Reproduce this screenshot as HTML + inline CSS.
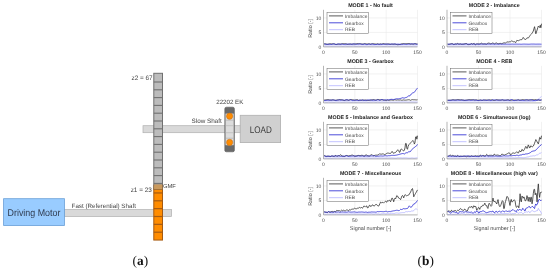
<!DOCTYPE html><html><head><meta charset="utf-8"><title>Figure</title>
<style>html,body{margin:0;padding:0;background:#fff;overflow:hidden;}svg{display:block;}text{font-family:"Liberation Sans",Arial,sans-serif;text-rendering:geometricPrecision;}.s{font-family:"Liberation Serif","Times New Roman",serif;}</style></head><body>
<svg width="550" height="271" viewBox="0 0 550 271">
<rect x="0" y="0" width="550" height="271" fill="#ffffff"/>
<rect x="64.4" y="209.6" width="107.2" height="6.9" fill="#d9d9d9" stroke="#b0b0b0" stroke-width="0.7"/>
<rect x="143" y="125.7" width="98" height="7" fill="#d9d9d9" stroke="#b0b0b0" stroke-width="0.7"/>
<rect x="3.6" y="198.7" width="60.8" height="26.9" fill="#99ccff" stroke="#6a9fd8" stroke-width="0.8"/>
<text x="7.6" y="216.4" font-size="9.8" textLength="52.8" lengthAdjust="spacingAndGlyphs" fill="#2e3a4e">Driving Motor</text>
<rect x="240.2" y="115.3" width="40.4" height="27.3" fill="#d0d0d0" stroke="#b0b0b0" stroke-width="0.8"/>
<text x="249.8" y="133" font-size="9.6" textLength="22" lengthAdjust="spacingAndGlyphs" fill="#3a3a3a">LOAD</text>
<rect x="153.8" y="73.3" width="8.7" height="115.70" fill="#bcbcbc" stroke="#707070" stroke-width="1.0"/>
<line x1="153.8" y1="82.00" x2="162.5" y2="82.00" stroke="#707070" stroke-width="1.1"/>
<line x1="153.8" y1="89.80" x2="162.5" y2="89.80" stroke="#707070" stroke-width="1.1"/>
<line x1="153.8" y1="97.60" x2="162.5" y2="97.60" stroke="#707070" stroke-width="1.1"/>
<line x1="153.8" y1="105.40" x2="162.5" y2="105.40" stroke="#707070" stroke-width="1.1"/>
<line x1="153.8" y1="113.20" x2="162.5" y2="113.20" stroke="#707070" stroke-width="1.1"/>
<line x1="153.8" y1="121.00" x2="162.5" y2="121.00" stroke="#707070" stroke-width="1.1"/>
<line x1="153.8" y1="128.80" x2="162.5" y2="128.80" stroke="#707070" stroke-width="1.1"/>
<line x1="153.8" y1="136.60" x2="162.5" y2="136.60" stroke="#707070" stroke-width="1.1"/>
<line x1="153.8" y1="144.40" x2="162.5" y2="144.40" stroke="#707070" stroke-width="1.1"/>
<line x1="153.8" y1="152.20" x2="162.5" y2="152.20" stroke="#707070" stroke-width="1.1"/>
<line x1="153.8" y1="160.00" x2="162.5" y2="160.00" stroke="#707070" stroke-width="1.1"/>
<line x1="153.8" y1="167.80" x2="162.5" y2="167.80" stroke="#707070" stroke-width="1.1"/>
<line x1="153.8" y1="175.60" x2="162.5" y2="175.60" stroke="#707070" stroke-width="1.1"/>
<line x1="153.8" y1="183.40" x2="162.5" y2="183.40" stroke="#707070" stroke-width="1.1"/>
<rect x="153.8" y="189" width="8.7" height="51.05" fill="#ff8c00" stroke="#a55a12" stroke-width="1.0"/>
<line x1="153.8" y1="192.95" x2="162.5" y2="192.95" stroke="#a55a12" stroke-width="1.2"/>
<line x1="153.8" y1="200.80" x2="162.5" y2="200.80" stroke="#a55a12" stroke-width="1.2"/>
<line x1="153.8" y1="208.65" x2="162.5" y2="208.65" stroke="#a55a12" stroke-width="1.2"/>
<line x1="153.8" y1="216.50" x2="162.5" y2="216.50" stroke="#a55a12" stroke-width="1.2"/>
<line x1="153.8" y1="224.35" x2="162.5" y2="224.35" stroke="#a55a12" stroke-width="1.2"/>
<line x1="153.8" y1="232.20" x2="162.5" y2="232.20" stroke="#a55a12" stroke-width="1.2"/>
<rect x="153.8" y="185" width="8.7" height="4.2" fill="#c9995d" stroke="#8a6a48" stroke-width="0.9"/>
<rect x="154.25" y="184.6" width="7.799999999999999" height="4.4" fill="#c9995d" stroke="none"/>
<rect x="224.8" y="107.2" width="9.6" height="44.6" rx="1.6" ry="1.6" fill="#6a6a6a" stroke="#5a5a5a" stroke-width="0.6"/>
<rect x="225.5" y="113.6" width="8.2" height="31.6" fill="#dcdcdc" stroke="none"/>
<line x1="225.70000000000002" y1="120.2" x2="233.5" y2="120.2" stroke="#9a9a9a" stroke-width="0.5"/>
<line x1="225.70000000000002" y1="138.2" x2="233.5" y2="138.2" stroke="#9a9a9a" stroke-width="0.5"/>
<line x1="225.70000000000002" y1="125.7" x2="233.5" y2="125.7" stroke="#b0b0b0" stroke-width="0.6"/>
<line x1="225.70000000000002" y1="132.7" x2="233.5" y2="132.7" stroke="#b0b0b0" stroke-width="0.6"/>
<circle cx="229.60000000000002" cy="116.2" r="3.1" fill="#ff8c00" stroke="#c9721a" stroke-width="0.6"/>
<circle cx="229.60000000000002" cy="142.4" r="3.1" fill="#ff8c00" stroke="#c9721a" stroke-width="0.6"/>
<text x="152.6" y="79.6" font-size="6.4" text-anchor="end" fill="#444">z2 = 67</text>
<text x="151.8" y="192.2" font-size="6.4" text-anchor="end" fill="#444">z1 = 23</text>
<text x="162.9" y="187.8" font-size="5.8" text-anchor="start" fill="#444">GMF</text>
<text x="216.2" y="103.8" font-size="6.2" text-anchor="start" fill="#444">22202 EK</text>
<text x="221.9" y="123.2" font-size="6.35" text-anchor="end" fill="#444">Slow Shaft</text>
<text x="71.6" y="207.9" font-size="6.22" text-anchor="start" fill="#444">Fast (Referential) Shaft</text>
<text class="s" x="140.3" y="264.9" font-size="13.3" text-anchor="middle" fill="#111">(<tspan font-weight="bold">a</tspan>)</text>
<text class="s" x="425.7" y="264.9" font-size="13.3" text-anchor="middle" fill="#111">(<tspan font-weight="bold">b</tspan>)</text>
<line x1="354.83" y1="9.8" x2="354.83" y2="46.9" stroke="#e4e4e4" stroke-width="0.5"/>
<line x1="386.17" y1="9.8" x2="386.17" y2="46.9" stroke="#e4e4e4" stroke-width="0.5"/>
<line x1="417.50" y1="9.8" x2="417.50" y2="46.9" stroke="#e4e4e4" stroke-width="0.5"/>
<line x1="323.5" y1="32.41" x2="417.5" y2="32.41" stroke="#e4e4e4" stroke-width="0.5"/>
<line x1="323.5" y1="17.92" x2="417.5" y2="17.92" stroke="#e4e4e4" stroke-width="0.5"/>
<polyline points="324.13,45.94 324.75,45.90 325.38,45.86 326.01,45.94 326.63,46.01 327.26,46.00 327.89,45.94 328.51,45.92 329.14,45.93 329.77,45.95 330.39,46.02 331.02,46.09 331.65,46.07 332.27,46.03 332.90,46.02 333.53,46.03 334.15,46.04 334.78,46.04 335.41,46.05 336.03,46.01 336.66,45.97 337.29,45.96 337.91,45.95 338.54,45.95 339.17,45.95 339.79,45.95 340.42,45.92 341.05,45.89 341.67,45.98 342.30,46.11 342.93,46.16 343.55,46.09 344.18,46.02 344.81,45.92 345.43,45.82 346.06,45.91 346.69,46.05 347.31,46.10 347.94,46.05 348.57,46.00 349.19,45.97 349.82,45.95 350.45,45.98 351.07,46.03 351.70,45.96 352.33,45.83 352.95,45.76 353.58,45.84 354.21,45.91 354.83,46.00 355.46,46.09 356.09,46.15 356.71,46.20 357.34,46.18 357.97,46.04 358.59,45.93 359.22,46.03 359.85,46.14 360.47,46.11 361.10,46.06 361.73,46.01 362.35,45.97 362.98,45.94 363.61,45.96 364.23,45.98 364.86,45.97 365.49,45.96 366.11,45.91 366.74,45.83 367.37,45.82 367.99,45.94 368.62,46.06 369.25,46.02 369.87,45.99 370.50,45.93 371.13,45.85 371.75,45.82 372.38,45.85 373.01,45.87 373.63,45.82 374.26,45.76 374.89,45.85 375.51,45.97 376.14,46.04 376.77,46.05 377.39,46.04 378.02,45.98 378.65,45.92 379.27,45.89 379.90,45.87 380.53,45.88 381.15,45.91 381.78,45.97 382.41,46.09 383.03,46.21 383.66,46.20 384.29,46.18 384.91,46.17 385.54,46.15 386.17,46.09 386.79,45.94 387.42,45.83 388.05,45.98 388.67,46.13 389.30,46.13 389.93,46.09 390.55,46.08 391.18,46.10 391.81,46.10 392.43,46.02 393.06,45.94 393.69,45.93 394.31,45.93 394.94,45.96 395.57,46.02 396.19,46.04 396.82,45.99 397.45,45.95 398.07,45.92 398.70,45.89 399.33,45.85 399.95,45.82 400.58,45.83 401.21,45.91 401.83,45.98 402.46,46.00 403.09,46.03 403.71,46.05 404.34,46.08 404.97,46.09 405.59,46.08 406.22,46.07 406.85,46.07 407.47,46.06 408.10,46.05 408.73,46.04 409.35,46.02 409.98,45.99 410.61,46.00 411.23,46.09 411.86,46.17 412.49,46.04 413.11,45.90 413.74,45.91 414.37,45.98 414.99,46.01 415.62,45.99 416.25,45.97 416.87,45.93 417.50,45.89" fill="none" stroke="#b3b3ff" stroke-width="0.8" stroke-linejoin="round"/>
<polyline points="324.13,43.99 324.75,43.94 325.38,43.88 326.01,43.94 326.63,44.13 327.26,44.26 327.89,44.21 328.51,44.15 329.14,43.99 329.77,43.81 330.39,43.79 331.02,43.86 331.65,43.90 332.27,43.87 332.90,43.84 333.53,43.88 334.15,43.92 334.78,44.07 335.41,44.27 336.03,44.38 336.66,44.34 337.29,44.31 337.91,44.23 338.54,44.16 339.17,44.11 339.79,44.07 340.42,44.05 341.05,44.04 341.67,43.99 342.30,43.79 342.93,43.58 343.55,43.66 344.18,43.76 344.81,43.78 345.43,43.75 346.06,43.81 346.69,44.07 347.31,44.33 347.94,44.27 348.57,44.20 349.19,44.13 349.82,44.04 350.45,44.01 351.07,44.05 351.70,44.08 352.33,44.09 352.95,44.09 353.58,44.06 354.21,44.02 354.83,43.99 355.46,43.96 356.09,43.91 356.71,43.73 357.34,43.56 357.97,43.66 358.59,43.80 359.22,43.82 359.85,43.78 360.47,43.78 361.10,43.88 361.73,43.98 362.35,44.04 362.98,44.10 363.61,43.97 364.23,43.76 364.86,43.68 365.49,43.78 366.11,43.88 366.74,43.96 367.37,44.03 367.99,43.94 368.62,43.81 369.25,43.83 369.87,43.99 370.50,44.10 371.13,44.03 371.75,43.96 372.38,43.83 373.01,43.69 373.63,43.71 374.26,43.83 374.89,43.95 375.51,44.06 376.14,44.18 376.77,43.98 377.39,43.79 378.02,43.92 378.65,44.19 379.27,44.26 379.90,44.04 380.53,43.87 381.15,44.04 381.78,44.22 382.41,43.95 383.03,43.59 383.66,43.56 384.29,43.83 384.91,44.05 385.54,44.11 386.17,44.17 386.79,44.10 387.42,44.02 388.05,43.97 388.67,43.92 389.30,43.96 389.93,44.19 390.55,44.42 391.18,44.24 391.81,44.05 392.43,44.10 393.06,44.23 393.69,44.26 394.31,44.16 394.94,44.08 395.57,44.22 396.19,44.35 396.82,44.52 397.45,44.70 398.07,44.71 398.70,44.56 399.33,44.44 399.95,44.43 400.58,44.41 401.21,44.12 401.83,43.80 402.46,43.68 403.09,43.68 403.71,43.70 404.34,43.78 404.97,43.86 405.59,43.77 406.22,43.68 406.85,43.65 407.47,43.63 408.10,43.59 408.73,43.52 409.35,43.50 409.98,43.85 410.61,44.20 411.23,44.11 411.86,43.92 412.49,43.94 413.11,44.15 413.74,44.25 414.37,43.90 414.99,43.55 415.62,43.69 416.25,43.87 416.87,43.95 417.50,43.96" fill="none" stroke="#303030" stroke-width="0.8" stroke-linejoin="round"/>
<polyline points="324.13,43.91 324.75,43.92 325.38,44.18 326.01,44.41 326.63,44.38 327.26,44.36 327.89,44.29 328.51,44.21 329.14,44.21 329.77,44.29 330.39,44.37 331.02,44.42 331.65,44.48 332.27,44.25 332.90,44.00 333.53,43.93 334.15,43.98 334.78,44.10 335.41,44.37 336.03,44.63 336.66,44.36 337.29,44.08 337.91,43.99 338.54,43.97 339.17,44.05 339.79,44.24 340.42,44.39 341.05,44.19 341.67,43.98 342.30,44.14 342.93,44.39 343.55,44.46 344.18,44.37 344.81,44.30 345.43,44.27 346.06,44.24 346.69,44.18 347.31,44.13 347.94,44.11 348.57,44.12 349.19,44.13 349.82,44.14 350.45,44.16 351.07,44.26 351.70,44.35 352.33,44.23 352.95,44.01 353.58,43.92 354.21,44.00 354.83,44.08 355.46,44.19 356.09,44.29 356.71,44.32 357.34,44.32 357.97,44.23 358.59,44.05 359.22,43.93 359.85,44.00 360.47,44.07 361.10,44.20 361.73,44.34 362.35,44.36 362.98,44.31 363.61,44.24 364.23,44.12 364.86,44.00 365.49,44.27 366.11,44.53 366.74,44.53 367.37,44.44 367.99,44.32 368.62,44.18 369.25,44.08 369.87,44.25 370.50,44.42 371.13,44.25 371.75,44.00 372.38,44.00 373.01,44.24 373.63,44.44 374.26,44.46 374.89,44.48 375.51,44.48 376.14,44.48 376.77,44.40 377.39,44.28 378.02,44.21 378.65,44.25 379.27,44.29 379.90,44.32 380.53,44.35 381.15,44.30 381.78,44.23 382.41,44.22 383.03,44.30 383.66,44.36 384.29,44.26 384.91,44.17 385.54,44.12 386.17,44.09 386.79,44.09 387.42,44.11 388.05,44.16 388.67,44.29 389.30,44.41 389.93,44.26 390.55,44.09 391.18,44.06 391.81,44.13 392.43,44.15 393.06,44.09 393.69,44.04 394.31,44.02 394.94,44.01 395.57,44.09 396.19,44.21 396.82,44.24 397.45,44.14 398.07,44.06 398.70,44.19 399.33,44.32 399.95,44.25 400.58,44.14 401.21,44.19 401.83,44.38 402.46,44.49 403.09,44.29 403.71,44.08 404.34,44.12 404.97,44.18 405.59,44.29 406.22,44.44 406.85,44.49 407.47,44.31 408.10,44.14 408.73,44.21 409.35,44.29 409.98,44.14 410.61,43.91 411.23,43.85 411.86,44.02 412.49,44.14 413.11,43.96 413.74,43.77 414.37,43.85 414.99,43.99 415.62,44.13 416.25,44.27 416.87,44.36 417.50,44.25" fill="none" stroke="#1f1fd0" stroke-width="0.8" stroke-linejoin="round"/>
<path d="M323.5 9.8 V46.9 H417.5" fill="none" stroke="#6a6a6a" stroke-width="0.5"/>
<text x="323.50" y="54.10" font-size="5" text-anchor="middle" fill="#4a4a4a">0</text>
<text x="354.83" y="54.10" font-size="5" text-anchor="middle" fill="#4a4a4a">50</text>
<text x="386.17" y="54.10" font-size="5" text-anchor="middle" fill="#4a4a4a">100</text>
<text x="417.50" y="54.10" font-size="5" text-anchor="middle" fill="#4a4a4a">150</text>
<text x="321.30" y="48.70" font-size="5" text-anchor="end" fill="#4a4a4a">0</text>
<text x="321.30" y="34.21" font-size="5" text-anchor="end" fill="#4a4a4a">5</text>
<text x="321.30" y="19.72" font-size="5" text-anchor="end" fill="#4a4a4a">10</text>
<text x="312.30" y="28.35" font-size="5.4" text-anchor="middle" fill="#4a4a4a" transform="rotate(-90 312.30 28.35)">Ratio [-]</text>
<text x="370.50" y="6.60" font-size="5.3" font-weight="bold" text-anchor="middle" fill="#222">MODE 1 - No fault</text>
<rect x="327.00" y="12.30" width="41.5" height="21.2" fill="#fff" stroke="#666" stroke-width="0.5"/>
<line x1="329.00" y1="15.90" x2="343.00" y2="15.90" stroke="#303030" stroke-width="0.8"/>
<text x="345.00" y="17.65" font-size="4.85" fill="#4a4a4a">Imbalance</text>
<line x1="329.00" y1="22.80" x2="343.00" y2="22.80" stroke="#1f1fd0" stroke-width="0.8"/>
<text x="345.00" y="24.55" font-size="4.85" fill="#4a4a4a">Gearbox</text>
<line x1="329.00" y1="29.70" x2="343.00" y2="29.70" stroke="#b3b3ff" stroke-width="0.8"/>
<text x="345.00" y="31.45" font-size="4.85" fill="#4a4a4a">REB</text>
<line x1="478.50" y1="9.8" x2="478.50" y2="46.9" stroke="#e4e4e4" stroke-width="0.5"/>
<line x1="510.00" y1="9.8" x2="510.00" y2="46.9" stroke="#e4e4e4" stroke-width="0.5"/>
<line x1="541.50" y1="9.8" x2="541.50" y2="46.9" stroke="#e4e4e4" stroke-width="0.5"/>
<line x1="447.0" y1="32.41" x2="541.5" y2="32.41" stroke="#e4e4e4" stroke-width="0.5"/>
<line x1="447.0" y1="17.92" x2="541.5" y2="17.92" stroke="#e4e4e4" stroke-width="0.5"/>
<polyline points="447.63,46.00 448.26,45.96 448.89,46.00 449.52,46.04 450.15,46.03 450.78,45.99 451.41,45.98 452.04,46.02 452.67,46.05 453.30,46.04 453.93,46.03 454.56,46.01 455.19,45.99 455.82,45.98 456.45,45.99 457.08,46.00 457.71,46.04 458.34,46.08 458.97,46.07 459.60,46.06 460.23,46.06 460.86,46.07 461.49,46.06 462.12,46.01 462.75,45.96 463.38,45.99 464.01,46.02 464.64,46.03 465.27,46.02 465.90,46.02 466.53,46.06 467.16,46.08 467.79,46.03 468.42,45.99 469.05,46.01 469.68,46.05 470.31,46.05 470.94,46.01 471.57,45.99 472.20,46.02 472.83,46.05 473.46,46.03 474.09,46.00 474.72,45.99 475.35,45.98 475.98,45.98 476.61,46.01 477.24,46.05 477.87,46.05 478.50,46.05 479.13,46.05 479.76,46.06 480.39,46.05 481.02,46.01 481.65,45.98 482.28,45.99 482.91,46.00 483.54,46.02 484.17,46.05 484.80,46.07 485.43,46.09 486.06,46.10 486.69,46.10 487.32,46.10 487.95,46.08 488.58,46.06 489.21,46.06 489.84,46.08 490.47,46.09 491.10,46.07 491.73,46.06 492.36,46.03 492.99,46.00 493.62,45.98 494.25,45.95 494.88,45.96 495.51,46.01 496.14,46.06 496.77,46.09 497.40,46.12 498.03,46.09 498.66,46.06 499.29,46.05 499.92,46.09 500.55,46.11 501.18,46.09 501.81,46.07 502.44,46.06 503.07,46.04 503.70,46.04 504.33,46.03 504.96,46.03 505.59,46.02 506.22,46.02 506.85,46.00 507.48,45.99 508.11,45.99 508.74,46.01 509.37,46.03 510.00,46.06 510.63,46.09 511.26,46.06 511.89,46.03 512.52,46.03 513.15,46.03 513.78,46.04 514.41,46.06 515.04,46.07 515.67,46.02 516.30,45.98 516.93,46.00 517.56,46.04 518.19,46.05 518.82,46.06 519.45,46.07 520.08,46.06 520.71,46.06 521.34,46.05 521.97,46.05 522.60,46.04 523.23,46.03 523.86,46.04 524.49,46.06 525.12,46.07 525.75,46.05 526.38,46.02 527.01,46.02 527.64,46.02 528.27,46.02 528.90,46.04 529.53,46.04 530.16,46.03 530.79,46.03 531.42,46.02 532.05,46.01 532.68,46.01 533.31,46.01 533.94,46.02 534.57,46.05 535.20,46.07 535.83,46.05 536.46,46.04 537.09,46.02 537.72,46.01 538.35,46.00 538.98,45.99 539.61,45.99 540.24,46.02 540.87,46.05 541.50,46.07" fill="none" stroke="#b3b3ff" stroke-width="0.8" stroke-linejoin="round"/>
<polyline points="447.63,44.10 448.26,44.28 448.89,44.44 449.52,44.27 450.15,44.10 450.78,43.90 451.41,43.71 452.04,43.72 452.67,43.77 453.30,44.32 453.93,44.78 454.56,44.34 455.19,43.95 455.82,44.03 456.45,44.06 457.08,43.70 457.71,43.41 458.34,43.94 458.97,44.39 459.60,44.07 460.23,43.80 460.86,44.09 461.49,44.36 462.12,44.32 462.75,44.28 463.38,44.18 464.01,44.06 464.64,43.83 465.27,43.62 465.90,43.54 466.53,43.53 467.16,44.08 467.79,44.59 468.42,44.60 469.05,44.61 469.68,44.49 470.31,44.34 470.94,43.91 471.57,43.55 472.20,43.95 472.83,44.26 473.46,43.71 474.09,43.28 474.72,44.20 475.35,44.99 475.98,44.44 476.61,43.93 477.24,43.91 477.87,43.89 478.50,43.95 479.13,43.99 479.76,43.89 480.39,43.76 481.02,43.42 481.65,43.16 482.28,43.66 482.91,44.12 483.54,43.99 484.17,43.87 484.80,43.91 485.43,43.97 486.06,44.14 486.69,44.23 487.32,43.60 487.95,43.02 488.58,43.07 489.21,43.15 489.84,43.46 490.47,43.74 491.10,43.62 491.73,43.49 492.36,43.12 492.99,42.83 493.62,43.42 494.25,43.95 494.88,43.61 495.51,43.28 496.14,43.10 496.77,42.98 497.40,43.49 498.03,43.94 498.66,43.72 499.29,43.50 499.92,43.45 500.55,43.42 501.18,43.63 501.81,43.80 502.44,43.42 503.07,43.06 503.70,42.93 504.33,42.82 504.96,43.03 505.59,43.17 506.22,42.46 506.85,41.80 507.48,41.96 508.11,42.09 508.74,41.95 509.37,41.81 510.00,41.78 510.63,41.70 511.26,41.18 511.89,40.74 512.52,41.30 513.15,41.82 513.78,41.70 514.41,41.64 515.04,42.21 515.67,42.65 516.30,41.41 516.93,40.25 517.56,40.54 518.19,40.79 518.82,40.48 519.45,40.17 520.08,39.90 520.71,39.65 521.34,39.66 521.97,39.58 522.60,38.44 523.23,37.42 523.86,38.31 524.49,39.19 525.12,39.39 525.75,39.51 526.38,38.62 527.01,37.77 527.64,37.96 528.27,38.08 528.90,37.22 529.53,36.32 530.16,35.40 530.79,34.47 531.42,33.91 532.05,33.28 532.68,32.24 533.31,31.03 533.94,28.68 534.57,26.69 535.20,30.35 535.83,33.82 536.46,31.98 537.09,30.01 537.72,27.95 538.35,26.02 538.98,26.86 539.61,27.52 540.24,25.23 540.87,27.77 541.50,23.71" fill="none" stroke="#303030" stroke-width="0.8" stroke-linejoin="round"/>
<polyline points="447.63,44.15 448.26,44.17 448.89,44.18 449.52,44.15 450.15,44.13 450.78,44.10 451.41,44.06 452.04,44.11 452.67,44.18 453.30,44.20 453.93,44.16 454.56,44.13 455.19,44.14 455.82,44.14 456.45,44.14 457.08,44.13 457.71,44.11 458.34,44.08 458.97,44.08 459.60,44.12 460.23,44.17 460.86,44.11 461.49,44.06 462.12,44.07 462.75,44.10 463.38,44.13 464.01,44.14 464.64,44.14 465.27,44.12 465.90,44.10 466.53,44.11 467.16,44.13 467.79,44.14 468.42,44.12 469.05,44.10 469.68,44.09 470.31,44.07 470.94,44.12 471.57,44.17 472.20,44.17 472.83,44.12 473.46,44.10 474.09,44.13 474.72,44.16 475.35,44.18 475.98,44.19 476.61,44.17 477.24,44.13 477.87,44.14 478.50,44.23 479.13,44.30 479.76,44.23 480.39,44.17 481.02,44.14 481.65,44.13 482.28,44.12 482.91,44.10 483.54,44.09 484.17,44.10 484.80,44.11 485.43,44.11 486.06,44.11 486.69,44.13 487.32,44.15 487.95,44.16 488.58,44.15 489.21,44.14 489.84,44.16 490.47,44.19 491.10,44.17 491.73,44.12 492.36,44.10 492.99,44.12 493.62,44.14 494.25,44.15 494.88,44.17 495.51,44.16 496.14,44.16 496.77,44.16 497.40,44.18 498.03,44.20 498.66,44.22 499.29,44.23 499.92,44.19 500.55,44.13 501.18,44.13 501.81,44.17 502.44,44.19 503.07,44.19 503.70,44.18 504.33,44.18 504.96,44.18 505.59,44.17 506.22,44.16 506.85,44.16 507.48,44.17 508.11,44.19 508.74,44.19 509.37,44.20 510.00,44.20 510.63,44.20 511.26,44.18 511.89,44.14 512.52,44.12 513.15,44.16 513.78,44.19 514.41,44.18 515.04,44.17 515.67,44.15 516.30,44.12 516.93,44.12 517.56,44.16 518.19,44.20 518.82,44.18 519.45,44.16 520.08,44.19 520.71,44.25 521.34,44.26 521.97,44.21 522.60,44.17 523.23,44.13 523.86,44.10 524.49,44.11 525.12,44.14 525.75,44.16 526.38,44.17 527.01,44.19 527.64,44.21 528.27,44.24 528.90,44.22 529.53,44.21 530.16,44.17 530.79,44.12 531.42,44.09 532.05,44.09 532.68,44.10 533.31,44.09 533.94,44.09 534.57,44.11 535.20,44.15 535.83,44.17 536.46,44.16 537.09,44.15 537.72,44.14 538.35,44.13 538.98,44.13 539.61,44.14 540.24,44.16 540.87,44.18 541.50,44.19" fill="none" stroke="#1f1fd0" stroke-width="0.8" stroke-linejoin="round"/>
<path d="M447.0 9.8 V46.9 H541.5" fill="none" stroke="#6a6a6a" stroke-width="0.5"/>
<text x="447.00" y="54.10" font-size="5" text-anchor="middle" fill="#4a4a4a">0</text>
<text x="478.50" y="54.10" font-size="5" text-anchor="middle" fill="#4a4a4a">50</text>
<text x="510.00" y="54.10" font-size="5" text-anchor="middle" fill="#4a4a4a">100</text>
<text x="541.50" y="54.10" font-size="5" text-anchor="middle" fill="#4a4a4a">150</text>
<text x="444.80" y="48.70" font-size="5" text-anchor="end" fill="#4a4a4a">0</text>
<text x="444.80" y="34.21" font-size="5" text-anchor="end" fill="#4a4a4a">5</text>
<text x="444.80" y="19.72" font-size="5" text-anchor="end" fill="#4a4a4a">10</text>
<text x="494.25" y="6.60" font-size="5.3" font-weight="bold" text-anchor="middle" fill="#222">MODE 2 - Imbalance</text>
<rect x="450.50" y="12.30" width="41.5" height="21.2" fill="#fff" stroke="#666" stroke-width="0.5"/>
<line x1="452.50" y1="15.90" x2="466.50" y2="15.90" stroke="#303030" stroke-width="0.8"/>
<text x="468.50" y="17.65" font-size="4.85" fill="#4a4a4a">Imbalance</text>
<line x1="452.50" y1="22.80" x2="466.50" y2="22.80" stroke="#1f1fd0" stroke-width="0.8"/>
<text x="468.50" y="24.55" font-size="4.85" fill="#4a4a4a">Gearbox</text>
<line x1="452.50" y1="29.70" x2="466.50" y2="29.70" stroke="#b3b3ff" stroke-width="0.8"/>
<text x="468.50" y="31.45" font-size="4.85" fill="#4a4a4a">REB</text>
<line x1="354.83" y1="65.8" x2="354.83" y2="102.9" stroke="#e4e4e4" stroke-width="0.5"/>
<line x1="386.17" y1="65.8" x2="386.17" y2="102.9" stroke="#e4e4e4" stroke-width="0.5"/>
<line x1="417.50" y1="65.8" x2="417.50" y2="102.9" stroke="#e4e4e4" stroke-width="0.5"/>
<line x1="323.5" y1="88.41" x2="417.5" y2="88.41" stroke="#e4e4e4" stroke-width="0.5"/>
<line x1="323.5" y1="73.92" x2="417.5" y2="73.92" stroke="#e4e4e4" stroke-width="0.5"/>
<polyline points="324.13,101.73 324.75,101.79 325.38,101.94 326.01,102.05 326.63,102.08 327.26,102.09 327.89,101.92 328.51,101.75 329.14,101.84 329.77,101.98 330.39,102.03 331.02,101.99 331.65,101.96 332.27,102.01 332.90,102.06 333.53,102.12 334.15,102.17 334.78,102.10 335.41,101.93 336.03,101.82 336.66,101.82 337.29,101.83 337.91,101.85 338.54,101.86 339.17,101.87 339.79,101.86 340.42,101.90 341.05,102.02 341.67,102.12 342.30,102.06 342.93,102.01 343.55,102.03 344.18,102.07 344.81,102.03 345.43,101.92 346.06,101.84 346.69,101.86 347.31,101.88 347.94,101.94 348.57,101.99 349.19,102.01 349.82,102.01 350.45,102.02 351.07,102.07 351.70,102.13 352.33,102.03 352.95,101.92 353.58,101.91 354.21,101.93 354.83,101.97 355.46,102.04 356.09,102.11 356.71,102.06 357.34,102.01 357.97,101.95 358.59,101.89 359.22,101.91 359.85,102.01 360.47,102.09 361.10,102.11 361.73,102.13 362.35,102.04 362.98,101.94 363.61,101.95 364.23,102.02 364.86,102.05 365.49,101.96 366.11,101.88 366.74,102.00 367.37,102.13 367.99,102.19 368.62,102.21 369.25,102.17 369.87,102.04 370.50,101.92 371.13,101.95 371.75,101.98 372.38,101.88 373.01,101.76 373.63,101.75 374.26,101.85 374.89,101.95 375.51,102.06 376.14,102.17 376.77,102.01 377.39,101.82 378.02,101.82 378.65,101.92 379.27,102.01 379.90,102.04 380.53,102.07 381.15,101.95 381.78,101.83 382.41,101.85 383.03,101.94 383.66,101.99 384.29,101.98 384.91,101.98 385.54,101.96 386.17,101.95 386.79,102.04 387.42,102.15 388.05,102.16 388.67,102.06 389.30,101.97 389.93,101.98 390.55,101.99 391.18,102.07 391.81,102.16 392.43,102.15 393.06,102.07 393.69,102.03 394.31,102.09 394.94,102.15 395.57,102.12 396.19,102.09 396.82,102.06 397.45,102.02 398.07,101.99 398.70,101.96 399.33,101.94 399.95,101.95 400.58,101.96 401.21,101.93 401.83,101.89 402.46,101.87 403.09,101.87 403.71,101.88 404.34,101.94 404.97,102.00 405.59,101.97 406.22,101.93 406.85,101.98 407.47,102.08 408.10,102.14 408.73,102.09 409.35,102.04 409.98,102.02 410.61,102.00 411.23,101.96 411.86,101.92 412.49,101.91 413.11,101.95 413.74,101.99 414.37,102.01 414.99,102.02 415.62,102.03 416.25,102.04 416.87,102.03 417.50,102.01" fill="none" stroke="#b3b3ff" stroke-width="0.8" stroke-linejoin="round"/>
<polyline points="324.13,100.11 324.75,100.02 325.38,99.93 326.01,99.83 326.63,99.72 327.26,99.65 327.89,99.64 328.51,99.64 329.14,99.83 329.77,100.01 330.39,100.09 331.02,100.14 331.65,100.07 332.27,99.88 332.90,99.77 333.53,99.94 334.15,100.11 334.78,100.22 335.41,100.33 336.03,100.27 336.66,100.09 337.29,99.95 337.91,99.92 338.54,99.90 339.17,99.74 339.79,99.58 340.42,99.59 341.05,99.66 341.67,99.77 342.30,99.93 342.93,100.09 343.55,100.34 344.18,100.60 344.81,100.39 345.43,100.06 346.06,99.89 346.69,99.87 347.31,99.91 347.94,100.14 348.57,100.38 349.19,100.08 349.82,99.72 350.45,99.57 351.07,99.56 351.70,99.59 352.33,99.71 352.95,99.83 353.58,100.01 354.21,100.19 354.83,100.15 355.46,100.02 356.09,99.88 356.71,99.70 357.34,99.59 357.97,100.00 358.59,100.41 359.22,100.35 359.85,100.17 360.47,100.12 361.10,100.20 361.73,100.24 362.35,100.11 362.98,99.98 363.61,100.05 364.23,100.15 364.86,100.18 365.49,100.15 366.11,100.16 366.74,100.23 367.37,100.30 367.99,100.36 368.62,100.43 369.25,100.35 369.87,100.22 370.50,100.10 371.13,100.00 371.75,99.90 372.38,99.75 373.01,99.59 373.63,99.69 374.26,99.84 374.89,99.97 375.51,100.08 376.14,100.10 376.77,99.80 377.39,99.50 378.02,99.51 378.65,99.56 379.27,99.68 379.90,99.84 380.53,99.92 381.15,99.80 381.78,99.67 382.41,99.79 383.03,99.91 383.66,99.99 384.29,100.06 384.91,100.20 385.54,100.41 386.17,100.57 386.79,100.25 387.42,99.93 388.05,100.07 388.67,100.32 389.30,100.35 389.93,100.18 390.55,100.05 391.18,100.04 391.81,100.03 392.43,100.17 393.06,100.32 393.69,100.20 394.31,99.90 394.94,99.75 395.57,99.94 396.19,100.14 396.82,100.04 397.45,99.95 398.07,99.97 398.70,100.05 399.33,100.07 399.95,99.99 400.58,99.95 401.21,100.14 401.83,100.34 402.46,100.21 403.09,100.00 403.71,99.96 404.34,100.10 404.97,100.20 405.59,100.15 406.22,100.09 406.85,99.99 407.47,99.88 408.10,99.81 408.73,99.75 409.35,99.80 409.98,100.07 410.61,100.34 411.23,100.01 411.86,99.67 412.49,99.64 413.11,99.72 413.74,99.77 414.37,99.77 414.99,99.78 415.62,99.86 416.25,99.95 416.87,99.87 417.50,99.76" fill="none" stroke="#303030" stroke-width="0.8" stroke-linejoin="round"/>
<polyline points="324.13,100.25 324.75,100.47 325.38,100.48 326.01,100.47 326.63,100.41 327.26,100.33 327.89,100.27 328.51,100.29 329.14,100.30 329.77,100.23 330.39,100.15 331.02,100.14 331.65,100.15 332.27,100.14 332.90,100.09 333.53,100.06 334.15,100.15 334.78,100.24 335.41,100.32 336.03,100.39 336.66,100.37 337.29,100.25 337.91,100.13 338.54,100.03 339.17,99.93 339.79,100.08 340.42,100.28 341.05,100.26 341.67,100.11 342.30,100.02 342.93,100.08 343.55,100.14 344.18,100.19 344.81,100.23 345.43,100.12 346.06,99.95 346.69,99.87 347.31,99.96 347.94,100.04 348.57,100.12 349.19,100.20 349.82,100.08 350.45,99.91 351.07,99.98 351.70,100.32 352.33,100.56 352.95,100.44 353.58,100.31 354.21,100.24 354.83,100.19 355.46,100.20 356.09,100.25 356.71,100.32 357.34,100.41 357.97,100.50 358.59,100.35 359.22,100.20 359.85,100.21 360.47,100.30 361.10,100.29 361.73,100.11 362.35,99.97 362.98,100.19 363.61,100.41 364.23,100.37 364.86,100.27 365.49,100.24 366.11,100.29 366.74,100.30 367.37,100.13 367.99,99.96 368.62,100.00 369.25,100.07 369.87,100.08 370.50,100.03 371.13,100.05 371.75,100.21 372.38,100.36 373.01,100.24 373.63,100.11 374.26,100.14 374.89,100.25 375.51,100.30 376.14,100.23 376.77,100.16 377.39,99.99 378.02,99.82 378.65,100.05 379.27,100.38 379.90,100.38 380.53,100.03 381.15,99.73 381.78,99.71 382.41,99.69 383.03,99.92 383.66,100.18 384.29,100.17 384.91,99.96 385.54,99.82 386.17,99.86 386.79,99.90 387.42,99.96 388.05,100.01 388.67,99.90 389.30,99.70 389.93,99.54 390.55,99.43 391.18,99.34 391.81,99.37 392.43,99.41 393.06,99.44 393.69,99.47 394.31,99.39 394.94,99.19 395.57,98.99 396.19,98.88 396.82,98.76 397.45,98.81 398.07,98.89 398.70,98.84 399.33,98.71 399.95,98.57 400.58,98.41 401.21,98.24 401.83,98.01 402.46,97.76 403.09,97.81 403.71,98.02 404.34,98.07 404.97,97.85 405.59,97.62 406.22,97.45 406.85,97.26 407.47,96.78 408.10,96.18 408.73,95.87 409.35,95.90 409.98,95.78 410.61,94.93 411.23,94.00 411.86,93.50 412.49,93.02 413.11,92.73 413.74,92.60 414.37,92.27 414.99,91.42 415.62,90.49 416.25,89.59 416.87,88.61 417.50,88.41" fill="none" stroke="#1f1fd0" stroke-width="0.8" stroke-linejoin="round"/>
<path d="M323.5 65.8 V102.9 H417.5" fill="none" stroke="#6a6a6a" stroke-width="0.5"/>
<text x="323.50" y="110.10" font-size="5" text-anchor="middle" fill="#4a4a4a">0</text>
<text x="354.83" y="110.10" font-size="5" text-anchor="middle" fill="#4a4a4a">50</text>
<text x="386.17" y="110.10" font-size="5" text-anchor="middle" fill="#4a4a4a">100</text>
<text x="417.50" y="110.10" font-size="5" text-anchor="middle" fill="#4a4a4a">150</text>
<text x="321.30" y="104.70" font-size="5" text-anchor="end" fill="#4a4a4a">0</text>
<text x="321.30" y="90.21" font-size="5" text-anchor="end" fill="#4a4a4a">5</text>
<text x="321.30" y="75.72" font-size="5" text-anchor="end" fill="#4a4a4a">10</text>
<text x="312.30" y="84.35" font-size="5.4" text-anchor="middle" fill="#4a4a4a" transform="rotate(-90 312.30 84.35)">Ratio [-]</text>
<text x="370.50" y="62.60" font-size="5.3" font-weight="bold" text-anchor="middle" fill="#222">MODE 3 - Gearbox</text>
<rect x="327.00" y="68.30" width="41.5" height="21.2" fill="#fff" stroke="#666" stroke-width="0.5"/>
<line x1="329.00" y1="71.90" x2="343.00" y2="71.90" stroke="#303030" stroke-width="0.8"/>
<text x="345.00" y="73.65" font-size="4.85" fill="#4a4a4a">Imbalance</text>
<line x1="329.00" y1="78.80" x2="343.00" y2="78.80" stroke="#1f1fd0" stroke-width="0.8"/>
<text x="345.00" y="80.55" font-size="4.85" fill="#4a4a4a">Gearbox</text>
<line x1="329.00" y1="85.70" x2="343.00" y2="85.70" stroke="#b3b3ff" stroke-width="0.8"/>
<text x="345.00" y="87.45" font-size="4.85" fill="#4a4a4a">REB</text>
<line x1="478.50" y1="65.8" x2="478.50" y2="102.9" stroke="#e4e4e4" stroke-width="0.5"/>
<line x1="510.00" y1="65.8" x2="510.00" y2="102.9" stroke="#e4e4e4" stroke-width="0.5"/>
<line x1="541.50" y1="65.8" x2="541.50" y2="102.9" stroke="#e4e4e4" stroke-width="0.5"/>
<line x1="447.0" y1="88.41" x2="541.5" y2="88.41" stroke="#e4e4e4" stroke-width="0.5"/>
<line x1="447.0" y1="73.92" x2="541.5" y2="73.92" stroke="#e4e4e4" stroke-width="0.5"/>
<polyline points="447.63,102.04 448.26,102.06 448.89,102.08 449.52,102.00 450.15,101.92 450.78,101.93 451.41,101.97 452.04,101.99 452.67,101.97 453.30,101.96 453.93,101.93 454.56,101.90 455.19,101.90 455.82,101.89 456.45,101.91 457.08,101.94 457.71,101.97 458.34,101.97 458.97,101.98 459.60,102.02 460.23,102.06 460.86,102.10 461.49,102.12 462.12,102.11 462.75,102.01 463.38,101.92 464.01,101.91 464.64,101.91 465.27,101.91 465.90,101.92 466.53,101.94 467.16,101.98 467.79,102.01 468.42,102.00 469.05,101.99 469.68,101.99 470.31,102.00 470.94,102.03 471.57,102.09 472.20,102.12 472.83,102.05 473.46,101.98 474.09,101.88 474.72,101.79 475.35,101.85 475.98,101.99 476.61,102.08 477.24,102.06 477.87,102.04 478.50,102.01 479.13,101.99 479.76,101.98 480.39,101.98 481.02,102.01 481.65,102.07 482.28,102.11 482.91,102.06 483.54,102.02 484.17,102.00 484.80,102.00 485.43,102.03 486.06,102.09 486.69,102.14 487.32,102.14 487.95,102.14 488.58,102.04 489.21,101.93 489.84,101.93 490.47,101.97 491.10,101.99 491.73,101.99 492.36,101.99 492.99,101.98 493.62,101.97 494.25,101.99 494.88,102.03 495.51,102.06 496.14,102.08 496.77,102.10 497.40,102.08 498.03,102.06 498.66,101.99 499.29,101.92 499.92,101.90 500.55,101.94 501.18,101.98 501.81,102.03 502.44,102.08 503.07,101.95 503.70,101.82 504.33,101.85 504.96,101.97 505.59,102.05 506.22,102.04 506.85,102.04 507.48,101.98 508.11,101.92 508.74,101.91 509.37,101.92 510.00,101.88 510.63,101.79 511.26,101.73 511.89,101.82 512.52,101.91 513.15,101.91 513.78,101.90 514.41,101.94 515.04,102.02 515.67,102.07 516.30,102.01 516.93,101.95 517.56,101.96 518.19,101.97 518.82,101.99 519.45,102.01 520.08,102.01 520.71,101.97 521.34,101.93 521.97,101.91 522.60,101.89 523.23,101.82 523.86,101.74 524.49,101.69 525.12,101.69 525.75,101.70 526.38,101.72 527.01,101.73 527.64,101.75 528.27,101.75 528.90,101.71 529.53,101.63 530.16,101.53 530.79,101.41 531.42,101.27 532.05,101.34 532.68,101.42 533.31,101.34 533.94,101.15 534.57,101.01 535.20,101.02 535.83,101.00 536.46,100.49 537.09,99.88 537.72,99.51 538.35,99.22 538.98,98.78 539.61,98.13 540.24,97.43 540.87,96.99 541.50,96.51" fill="none" stroke="#b3b3ff" stroke-width="0.8" stroke-linejoin="round"/>
<polyline points="447.63,100.20 448.26,100.24 448.89,100.25 449.52,100.21 450.15,100.17 450.78,100.16 451.41,100.15 452.04,99.96 452.67,99.72 453.30,99.68 453.93,99.85 454.56,100.00 455.19,99.98 455.82,99.95 456.45,99.85 457.08,99.73 457.71,99.64 458.34,99.57 458.97,99.58 459.60,99.82 460.23,100.06 460.86,99.89 461.49,99.69 462.12,99.77 462.75,99.99 463.38,100.18 464.01,100.31 464.64,100.42 465.27,100.30 465.90,100.17 466.53,100.06 467.16,99.96 467.79,99.85 468.42,99.74 469.05,99.65 469.68,99.67 470.31,99.70 470.94,99.69 471.57,99.67 472.20,99.69 472.83,99.76 473.46,99.83 474.09,99.93 474.72,100.03 475.35,99.94 475.98,99.83 476.61,99.93 477.24,100.12 477.87,100.24 478.50,100.22 479.13,100.20 479.76,100.09 480.39,99.99 481.02,100.12 481.65,100.32 482.28,100.36 482.91,100.20 483.54,100.06 484.17,100.07 484.80,100.08 485.43,100.03 486.06,99.98 486.69,100.00 487.32,100.09 487.95,100.12 488.58,99.96 489.21,99.81 489.84,99.87 490.47,99.93 491.10,99.90 491.73,99.83 492.36,99.88 492.99,100.16 493.62,100.43 494.25,100.41 494.88,100.39 495.51,100.15 496.14,99.84 496.77,99.73 497.40,99.84 498.03,99.95 498.66,100.03 499.29,100.12 499.92,100.13 500.55,100.13 501.18,100.04 501.81,99.89 502.44,99.82 503.07,100.02 503.70,100.21 504.33,100.25 504.96,100.28 505.59,100.24 506.22,100.16 506.85,100.03 507.48,99.80 508.11,99.61 508.74,99.97 509.37,100.33 510.00,100.39 510.63,100.36 511.26,100.26 511.89,100.09 512.52,99.95 513.15,100.03 513.78,100.11 514.41,100.07 515.04,100.00 515.67,100.06 516.30,100.21 516.93,100.24 517.56,99.92 518.19,99.59 518.82,99.87 519.45,100.17 520.08,100.21 520.71,100.11 521.34,99.98 521.97,99.79 522.60,99.62 523.23,99.69 523.86,99.75 524.49,99.87 525.12,100.00 525.75,100.02 526.38,99.90 527.01,99.81 527.64,99.89 528.27,99.98 528.90,99.98 529.53,99.98 530.16,99.96 530.79,99.93 531.42,99.87 532.05,99.72 532.68,99.57 533.31,99.70 533.94,99.84 534.57,99.79 535.20,99.65 535.83,99.66 536.46,99.91 537.09,100.14 537.72,99.98 538.35,99.82 538.98,99.99 539.61,100.27 540.24,100.29 540.87,100.02 541.50,99.79" fill="none" stroke="#303030" stroke-width="0.8" stroke-linejoin="round"/>
<polyline points="447.63,100.29 448.26,100.32 448.89,100.34 449.52,100.37 450.15,100.40 450.78,100.32 451.41,100.20 452.04,100.17 452.67,100.21 453.30,100.24 453.93,100.21 454.56,100.17 455.19,100.19 455.82,100.21 456.45,100.19 457.08,100.15 457.71,100.14 458.34,100.26 458.97,100.38 459.60,100.22 460.23,100.06 460.86,100.12 461.49,100.30 462.12,100.37 462.75,100.24 463.38,100.13 464.01,100.19 464.64,100.25 465.27,100.28 465.90,100.31 466.53,100.32 467.16,100.30 467.79,100.28 468.42,100.22 469.05,100.17 469.68,100.24 470.31,100.34 470.94,100.38 471.57,100.36 472.20,100.31 472.83,100.16 473.46,100.00 474.09,100.09 474.72,100.19 475.35,100.22 475.98,100.22 476.61,100.27 477.24,100.40 477.87,100.52 478.50,100.46 479.13,100.41 479.76,100.31 480.39,100.21 481.02,100.19 481.65,100.27 482.28,100.32 482.91,100.18 483.54,100.05 484.17,100.09 484.80,100.15 485.43,100.26 486.06,100.41 486.69,100.47 487.32,100.28 487.95,100.10 488.58,100.15 489.21,100.22 489.84,100.37 490.47,100.55 491.10,100.57 491.73,100.29 492.36,100.03 492.99,99.98 493.62,99.93 494.25,99.96 494.88,100.01 495.51,100.04 496.14,100.07 496.77,100.11 497.40,100.19 498.03,100.27 498.66,100.20 499.29,100.11 499.92,100.09 500.55,100.13 501.18,100.13 501.81,100.05 502.44,99.96 503.07,100.02 503.70,100.08 504.33,100.12 504.96,100.14 505.59,100.15 506.22,100.14 506.85,100.13 507.48,100.19 508.11,100.25 508.74,100.25 509.37,100.22 510.00,100.07 510.63,99.77 511.26,99.57 511.89,99.82 512.52,100.08 513.15,100.30 513.78,100.50 514.41,100.56 515.04,100.51 515.67,100.42 516.30,100.22 516.93,100.01 517.56,100.11 518.19,100.21 518.82,100.25 519.45,100.25 520.08,100.26 520.71,100.27 521.34,100.29 521.97,100.32 522.60,100.36 523.23,100.40 523.86,100.44 524.49,100.35 525.12,100.10 525.75,99.90 526.38,99.97 527.01,100.03 527.64,100.14 528.27,100.26 528.90,100.22 529.53,100.05 530.16,99.93 530.79,99.92 531.42,99.91 532.05,100.13 532.68,100.35 533.31,100.47 533.94,100.53 534.57,100.53 535.20,100.43 535.83,100.32 536.46,100.26 537.09,100.20 537.72,100.09 538.35,99.97 538.98,99.93 539.61,99.98 540.24,100.03 540.87,100.09 541.50,100.14" fill="none" stroke="#1f1fd0" stroke-width="0.8" stroke-linejoin="round"/>
<path d="M447.0 65.8 V102.9 H541.5" fill="none" stroke="#6a6a6a" stroke-width="0.5"/>
<text x="447.00" y="110.10" font-size="5" text-anchor="middle" fill="#4a4a4a">0</text>
<text x="478.50" y="110.10" font-size="5" text-anchor="middle" fill="#4a4a4a">50</text>
<text x="510.00" y="110.10" font-size="5" text-anchor="middle" fill="#4a4a4a">100</text>
<text x="541.50" y="110.10" font-size="5" text-anchor="middle" fill="#4a4a4a">150</text>
<text x="444.80" y="104.70" font-size="5" text-anchor="end" fill="#4a4a4a">0</text>
<text x="444.80" y="90.21" font-size="5" text-anchor="end" fill="#4a4a4a">5</text>
<text x="444.80" y="75.72" font-size="5" text-anchor="end" fill="#4a4a4a">10</text>
<text x="494.25" y="62.60" font-size="5.3" font-weight="bold" text-anchor="middle" fill="#222">MODE 4 - REB</text>
<rect x="450.50" y="68.30" width="41.5" height="21.2" fill="#fff" stroke="#666" stroke-width="0.5"/>
<line x1="452.50" y1="71.90" x2="466.50" y2="71.90" stroke="#303030" stroke-width="0.8"/>
<text x="468.50" y="73.65" font-size="4.85" fill="#4a4a4a">Imbalance</text>
<line x1="452.50" y1="78.80" x2="466.50" y2="78.80" stroke="#1f1fd0" stroke-width="0.8"/>
<text x="468.50" y="80.55" font-size="4.85" fill="#4a4a4a">Gearbox</text>
<line x1="452.50" y1="85.70" x2="466.50" y2="85.70" stroke="#b3b3ff" stroke-width="0.8"/>
<text x="468.50" y="87.45" font-size="4.85" fill="#4a4a4a">REB</text>
<line x1="354.83" y1="121.8" x2="354.83" y2="158.9" stroke="#e4e4e4" stroke-width="0.5"/>
<line x1="386.17" y1="121.8" x2="386.17" y2="158.9" stroke="#e4e4e4" stroke-width="0.5"/>
<line x1="417.50" y1="121.8" x2="417.50" y2="158.9" stroke="#e4e4e4" stroke-width="0.5"/>
<line x1="323.5" y1="144.41" x2="417.5" y2="144.41" stroke="#e4e4e4" stroke-width="0.5"/>
<line x1="323.5" y1="129.92" x2="417.5" y2="129.92" stroke="#e4e4e4" stroke-width="0.5"/>
<polyline points="324.13,158.03 324.75,158.02 325.38,157.99 326.01,157.97 326.63,157.98 327.26,158.00 327.89,158.05 328.51,158.11 329.14,158.05 329.77,157.99 330.39,158.05 331.02,158.19 331.65,158.24 332.27,158.13 332.90,158.03 333.53,157.98 334.15,157.93 334.78,157.91 335.41,157.91 336.03,157.89 336.66,157.84 337.29,157.81 337.91,157.85 338.54,157.89 339.17,157.93 339.79,157.96 340.42,158.00 341.05,158.05 341.67,158.07 342.30,157.98 342.93,157.89 343.55,157.97 344.18,158.06 344.81,158.09 345.43,158.09 346.06,158.09 346.69,158.09 347.31,158.10 347.94,158.07 348.57,158.04 349.19,157.95 349.82,157.84 350.45,157.79 351.07,157.83 351.70,157.86 352.33,157.92 352.95,157.99 353.58,157.92 354.21,157.83 354.83,157.87 355.46,158.00 356.09,158.10 356.71,158.07 357.34,158.04 357.97,157.96 358.59,157.87 359.22,157.87 359.85,157.92 360.47,157.95 361.10,157.95 361.73,157.96 362.35,157.96 362.98,157.97 363.61,157.94 364.23,157.90 364.86,157.89 365.49,157.92 366.11,157.93 366.74,157.86 367.37,157.80 367.99,157.84 368.62,157.91 369.25,157.97 369.87,158.03 370.50,158.07 371.13,158.06 371.75,158.05 372.38,158.00 373.01,157.95 373.63,157.93 374.26,157.91 374.89,157.90 375.51,157.88 376.14,157.87 376.77,157.98 377.39,158.09 378.02,158.04 378.65,157.93 379.27,157.87 379.90,157.89 380.53,157.90 381.15,157.90 381.78,157.89 382.41,157.95 383.03,158.02 383.66,158.05 384.29,158.06 384.91,158.06 385.54,158.02 386.17,157.97 386.79,157.97 387.42,157.97 388.05,157.96 388.67,157.93 389.30,157.92 389.93,157.94 390.55,157.95 391.18,157.91 391.81,157.87 392.43,157.91 393.06,157.97 393.69,158.03 394.31,158.10 394.94,158.15 395.57,158.17 396.19,158.19 396.82,158.04 397.45,157.84 398.07,157.79 398.70,157.85 399.33,157.89 399.95,157.84 400.58,157.80 401.21,157.87 401.83,157.95 402.46,157.96 403.09,157.92 403.71,157.89 404.34,157.88 404.97,157.87 405.59,157.85 406.22,157.83 406.85,157.90 407.47,157.99 408.10,158.07 408.73,158.11 409.35,158.14 409.98,158.11 410.61,158.09 411.23,158.01 411.86,157.93 412.49,157.95 413.11,158.06 413.74,158.14 414.37,158.13 414.99,158.12 415.62,158.01 416.25,157.88 416.87,157.83 417.50,157.81" fill="none" stroke="#b3b3ff" stroke-width="0.8" stroke-linejoin="round"/>
<polyline points="324.13,155.48 324.75,155.67 325.38,156.26 326.01,156.43 326.63,156.21 327.26,156.14 327.89,156.19 328.51,156.20 329.14,156.17 329.77,156.28 330.39,156.51 331.02,156.39 331.65,155.95 332.27,155.95 332.90,156.33 333.53,156.48 334.15,156.41 334.78,156.07 335.41,155.50 336.03,155.57 336.66,156.25 337.29,156.32 337.91,155.84 338.54,155.64 339.17,155.69 339.79,155.40 340.42,154.80 341.05,154.93 341.67,155.71 342.30,156.12 342.93,156.19 343.55,156.33 344.18,156.52 344.81,156.36 345.43,155.89 346.06,155.60 346.69,155.47 347.31,155.57 347.94,155.86 348.57,155.91 349.19,155.73 349.82,155.62 350.45,155.58 351.07,155.42 351.70,155.16 352.33,155.12 352.95,155.29 353.58,155.61 354.21,156.07 354.83,156.29 355.46,156.28 356.09,156.09 356.71,155.73 357.34,155.52 357.97,155.45 358.59,155.43 359.22,155.47 359.85,155.50 360.47,155.53 361.10,155.44 361.73,155.25 362.35,155.33 362.98,155.68 363.61,155.99 364.23,156.26 364.86,155.90 365.49,154.96 366.11,154.75 366.74,155.19 367.37,155.57 367.99,155.88 368.62,156.03 369.25,156.05 369.87,155.77 370.50,155.23 371.13,154.86 371.75,154.65 372.38,154.90 373.01,155.56 373.63,155.77 374.26,155.54 374.89,155.35 375.51,155.19 376.14,155.13 376.77,155.16 377.39,155.12 378.02,155.00 378.65,154.60 379.27,153.93 379.90,153.77 380.53,154.09 381.15,154.20 381.78,154.11 382.41,153.95 383.03,153.73 383.66,153.96 384.29,154.63 384.91,154.71 385.54,154.24 386.17,153.78 386.79,153.35 387.42,153.11 388.05,153.08 388.67,153.16 389.30,153.36 389.93,153.42 390.55,153.36 391.18,152.76 391.81,151.61 392.43,151.67 393.06,152.89 393.69,153.29 394.31,152.90 394.94,152.61 395.57,152.41 396.19,151.83 396.82,150.86 397.45,150.15 398.07,149.70 398.70,150.42 399.33,152.31 399.95,152.15 400.58,149.97 401.21,149.00 401.83,149.24 402.46,149.78 403.09,150.60 403.71,150.80 404.34,150.39 404.97,147.93 405.59,143.44 406.22,143.56 406.85,148.31 407.47,149.28 408.10,146.47 408.73,144.81 409.35,144.30 409.98,143.65 410.61,142.86 411.23,142.11 411.86,141.40 412.49,140.89 413.11,140.56 413.74,141.59 414.37,144.02 414.99,142.51 415.62,137.00 416.25,136.40 416.87,139.19 417.50,135.71" fill="none" stroke="#303030" stroke-width="0.8" stroke-linejoin="round"/>
<polyline points="324.13,156.15 324.75,156.04 325.38,156.03 326.01,156.31 326.63,156.58 327.26,156.40 327.89,156.19 328.51,156.23 329.14,156.39 329.77,156.46 330.39,156.35 331.02,156.24 331.65,156.16 332.27,156.07 332.90,156.06 333.53,156.07 334.15,156.08 334.78,156.10 335.41,156.11 336.03,156.07 336.66,156.03 337.29,155.98 337.91,155.92 338.54,155.96 339.17,156.07 339.79,156.19 340.42,156.32 341.05,156.44 341.67,156.33 342.30,156.19 342.93,156.17 343.55,156.19 344.18,156.18 344.81,156.11 345.43,156.03 346.06,155.94 346.69,155.85 347.31,156.05 347.94,156.33 348.57,156.44 349.19,156.35 349.82,156.26 350.45,156.21 351.07,156.16 351.70,156.13 352.33,156.10 352.95,156.06 353.58,156.02 354.21,155.99 354.83,155.99 355.46,155.99 356.09,156.15 356.71,156.32 357.34,156.22 357.97,155.97 358.59,155.87 359.22,156.07 359.85,156.26 360.47,156.21 361.10,156.17 361.73,156.10 362.35,156.03 362.98,156.03 363.61,156.13 364.23,156.20 364.86,156.13 365.49,156.05 366.11,156.07 366.74,156.11 367.37,156.10 367.99,156.04 368.62,156.02 369.25,156.10 369.87,156.18 370.50,156.07 371.13,155.95 371.75,155.94 372.38,155.98 373.01,155.97 373.63,155.86 374.26,155.77 374.89,156.05 375.51,156.33 376.14,156.35 376.77,156.30 377.39,156.25 378.02,156.22 378.65,156.17 379.27,156.07 379.90,155.97 380.53,155.96 381.15,155.96 381.78,156.00 382.41,156.07 383.03,156.09 383.66,155.97 384.29,155.84 384.91,155.78 385.54,155.73 386.17,155.78 386.79,155.89 387.42,155.92 388.05,155.80 388.67,155.68 389.30,155.71 389.93,155.73 390.55,155.61 391.18,155.45 391.81,155.35 392.43,155.33 393.06,155.33 393.69,155.37 394.31,155.41 394.94,155.35 395.57,155.26 396.19,155.16 396.82,155.03 397.45,154.89 398.07,154.72 398.70,154.55 399.33,154.38 399.95,154.21 400.58,154.03 401.21,153.84 401.83,153.67 402.46,153.56 403.09,153.47 403.71,153.72 404.34,153.99 404.97,153.65 405.59,153.05 406.22,152.73 406.85,152.79 407.47,152.76 408.10,152.25 408.73,151.70 409.35,151.71 409.98,151.84 410.61,151.40 411.23,150.41 411.86,149.49 412.49,148.96 413.11,148.40 413.74,147.94 414.37,147.47 414.99,146.98 415.62,146.46 416.25,145.96 416.87,145.50 417.50,144.41" fill="none" stroke="#1f1fd0" stroke-width="0.8" stroke-linejoin="round"/>
<path d="M323.5 121.8 V158.9 H417.5" fill="none" stroke="#6a6a6a" stroke-width="0.5"/>
<text x="323.50" y="166.10" font-size="5" text-anchor="middle" fill="#4a4a4a">0</text>
<text x="354.83" y="166.10" font-size="5" text-anchor="middle" fill="#4a4a4a">50</text>
<text x="386.17" y="166.10" font-size="5" text-anchor="middle" fill="#4a4a4a">100</text>
<text x="417.50" y="166.10" font-size="5" text-anchor="middle" fill="#4a4a4a">150</text>
<text x="321.30" y="160.70" font-size="5" text-anchor="end" fill="#4a4a4a">0</text>
<text x="321.30" y="146.21" font-size="5" text-anchor="end" fill="#4a4a4a">5</text>
<text x="321.30" y="131.72" font-size="5" text-anchor="end" fill="#4a4a4a">10</text>
<text x="312.30" y="140.35" font-size="5.4" text-anchor="middle" fill="#4a4a4a" transform="rotate(-90 312.30 140.35)">Ratio [-]</text>
<text x="370.50" y="118.60" font-size="5.3" font-weight="bold" text-anchor="middle" fill="#222">MODE 5 - Imbalance and Gearbox</text>
<rect x="327.00" y="124.30" width="41.5" height="21.2" fill="#fff" stroke="#666" stroke-width="0.5"/>
<line x1="329.00" y1="127.90" x2="343.00" y2="127.90" stroke="#303030" stroke-width="0.8"/>
<text x="345.00" y="129.65" font-size="4.85" fill="#4a4a4a">Imbalance</text>
<line x1="329.00" y1="134.80" x2="343.00" y2="134.80" stroke="#1f1fd0" stroke-width="0.8"/>
<text x="345.00" y="136.55" font-size="4.85" fill="#4a4a4a">Gearbox</text>
<line x1="329.00" y1="141.70" x2="343.00" y2="141.70" stroke="#b3b3ff" stroke-width="0.8"/>
<text x="345.00" y="143.45" font-size="4.85" fill="#4a4a4a">REB</text>
<line x1="478.50" y1="121.8" x2="478.50" y2="158.9" stroke="#e4e4e4" stroke-width="0.5"/>
<line x1="510.00" y1="121.8" x2="510.00" y2="158.9" stroke="#e4e4e4" stroke-width="0.5"/>
<line x1="541.50" y1="121.8" x2="541.50" y2="158.9" stroke="#e4e4e4" stroke-width="0.5"/>
<line x1="447.0" y1="144.41" x2="541.5" y2="144.41" stroke="#e4e4e4" stroke-width="0.5"/>
<line x1="447.0" y1="129.92" x2="541.5" y2="129.92" stroke="#e4e4e4" stroke-width="0.5"/>
<polyline points="447.63,158.12 448.26,158.11 448.89,158.03 449.52,157.96 450.15,157.94 450.78,157.93 451.41,157.96 452.04,157.99 452.67,157.95 453.30,157.89 453.93,157.88 454.56,157.97 455.19,158.04 455.82,157.92 456.45,157.81 457.08,157.84 457.71,157.91 458.34,157.95 458.97,157.96 459.60,157.96 460.23,157.96 460.86,157.96 461.49,158.07 462.12,158.19 462.75,158.26 463.38,158.27 464.01,158.27 464.64,158.21 465.27,158.14 465.90,158.17 466.53,158.21 467.16,158.15 467.79,158.04 468.42,157.93 469.05,157.83 469.68,157.75 470.31,157.86 470.94,157.97 471.57,158.07 472.20,158.16 472.83,158.21 473.46,158.23 474.09,158.23 474.72,158.15 475.35,158.07 475.98,158.03 476.61,157.99 477.24,157.94 477.87,157.87 478.50,157.85 479.13,157.93 479.76,158.01 480.39,158.05 481.02,158.08 481.65,158.08 482.28,158.07 482.91,158.05 483.54,158.02 484.17,157.99 484.80,157.97 485.43,157.96 486.06,157.94 486.69,157.92 487.32,157.85 487.95,157.71 488.58,157.62 489.21,157.74 489.84,157.85 490.47,157.79 491.10,157.71 491.73,157.69 492.36,157.71 492.99,157.74 493.62,157.80 494.25,157.86 494.88,157.97 495.51,158.08 496.14,158.03 496.77,157.91 497.40,157.85 498.03,157.88 498.66,157.90 499.29,157.85 499.92,157.81 500.55,157.83 501.18,157.86 501.81,157.86 502.44,157.80 503.07,157.75 503.70,157.74 504.33,157.73 504.96,157.76 505.59,157.79 506.22,157.79 506.85,157.75 507.48,157.74 508.11,157.80 508.74,157.85 509.37,157.88 510.00,157.90 510.63,157.90 511.26,157.90 511.89,157.88 512.52,157.82 513.15,157.77 513.78,157.84 514.41,157.91 515.04,157.89 515.67,157.83 516.30,157.77 516.93,157.71 517.56,157.64 518.19,157.59 518.82,157.53 519.45,157.50 520.08,157.47 520.71,157.50 521.34,157.57 521.97,157.63 522.60,157.68 523.23,157.73 523.86,157.69 524.49,157.65 525.12,157.54 525.75,157.39 526.38,157.25 527.01,157.13 527.64,157.01 528.27,156.92 528.90,156.82 529.53,156.59 530.16,156.30 530.79,156.12 531.42,156.09 532.05,156.04 532.68,155.91 533.31,155.77 533.94,155.82 534.57,155.91 535.20,155.72 535.83,155.28 536.46,154.92 537.09,154.91 537.72,154.91 538.35,154.29 538.98,153.58 539.61,153.29 540.24,153.23 540.87,153.04 541.50,152.58" fill="none" stroke="#b3b3ff" stroke-width="0.8" stroke-linejoin="round"/>
<polyline points="447.63,156.32 448.26,156.17 448.89,155.91 449.52,155.41 450.15,154.84 450.78,155.34 451.41,156.10 452.04,155.85 452.67,155.34 453.30,155.61 453.93,156.08 454.56,156.11 455.19,156.03 455.82,156.21 456.45,156.44 457.08,155.99 457.71,155.35 458.34,155.81 458.97,156.53 459.60,156.50 460.23,156.27 460.86,156.23 461.49,156.24 462.12,156.26 462.75,156.29 463.38,156.17 464.01,156.02 464.64,156.10 465.27,156.23 465.90,156.48 466.53,156.76 467.16,156.54 467.79,156.20 468.42,156.11 469.05,156.08 469.68,156.23 470.31,156.42 470.94,156.16 471.57,155.78 472.20,156.00 472.83,156.37 473.46,156.39 474.09,156.31 474.72,156.04 475.35,155.72 475.98,155.85 476.61,156.10 477.24,156.07 477.87,155.98 478.50,156.13 479.13,156.35 479.76,155.76 480.39,154.97 481.02,155.53 481.65,156.44 482.28,156.06 482.91,155.34 483.54,155.47 484.17,155.81 484.80,155.86 485.43,155.83 486.06,155.16 486.69,154.33 487.32,154.88 487.95,155.80 488.58,155.73 489.21,155.40 489.84,155.32 490.47,155.30 491.10,155.31 491.73,155.31 492.36,155.59 492.99,155.95 493.62,155.17 494.25,154.08 494.88,154.48 495.51,155.26 496.14,155.28 496.77,155.10 497.40,155.06 498.03,155.06 498.66,155.32 499.29,155.65 499.92,155.71 500.55,155.70 501.18,155.02 501.81,154.15 502.44,154.27 503.07,154.65 503.70,154.89 504.33,155.10 504.96,154.86 505.59,154.48 506.22,154.25 506.85,154.05 507.48,153.64 508.11,153.15 508.74,152.97 509.37,152.87 510.00,153.86 510.63,155.16 511.26,154.58 511.89,153.49 512.52,153.11 513.15,152.91 513.78,153.07 514.41,153.34 515.04,153.10 515.67,152.71 516.30,152.23 516.93,151.70 517.56,152.29 518.19,153.21 518.82,152.20 519.45,150.63 520.08,151.01 520.71,151.95 521.34,150.91 521.97,149.29 522.60,149.84 523.23,151.01 523.86,150.40 524.49,149.27 525.12,147.90 525.75,146.40 526.38,147.12 527.01,148.49 527.64,147.10 528.27,144.88 528.90,145.97 529.53,148.06 530.16,147.33 530.79,145.78 531.42,146.08 532.05,146.91 532.68,146.66 533.31,146.10 533.94,144.80 534.57,143.23 535.20,141.47 535.83,139.57 536.46,140.35 537.09,141.95 537.72,142.98 538.35,143.91 538.98,141.26 539.61,137.45 540.24,137.93 540.87,139.19 541.50,135.71" fill="none" stroke="#303030" stroke-width="0.8" stroke-linejoin="round"/>
<polyline points="447.63,156.17 448.26,156.18 448.89,156.19 449.52,156.21 450.15,156.22 450.78,156.26 451.41,156.31 452.04,156.33 452.67,156.25 453.30,156.19 453.93,156.25 454.56,156.30 455.19,156.27 455.82,156.20 456.45,156.21 457.08,156.30 457.71,156.36 458.34,156.28 458.97,156.20 459.60,156.22 460.23,156.27 460.86,156.31 461.49,156.36 462.12,156.38 462.75,156.33 463.38,156.28 464.01,156.28 464.64,156.28 465.27,156.20 465.90,156.08 466.53,155.99 467.16,155.98 467.79,155.97 468.42,156.17 469.05,156.36 469.68,156.33 470.31,156.23 470.94,156.21 471.57,156.29 472.20,156.36 472.83,156.28 473.46,156.21 474.09,156.26 474.72,156.33 475.35,156.38 475.98,156.42 476.61,156.44 477.24,156.39 477.87,156.34 478.50,156.38 479.13,156.42 479.76,156.31 480.39,156.13 481.02,155.97 481.65,155.86 482.28,155.77 482.91,155.98 483.54,156.20 484.17,156.31 484.80,156.38 485.43,156.30 486.06,156.02 486.69,155.81 487.32,155.98 487.95,156.15 488.58,156.18 489.21,156.18 489.84,156.20 490.47,156.23 491.10,156.23 491.73,156.16 492.36,156.08 492.99,156.10 493.62,156.13 494.25,156.14 494.88,156.13 495.51,156.12 496.14,156.14 496.77,156.16 497.40,156.24 498.03,156.32 498.66,156.26 499.29,156.15 499.92,156.14 500.55,156.24 501.18,156.31 501.81,156.17 502.44,156.02 503.07,155.91 503.70,155.80 504.33,155.80 504.96,155.90 505.59,155.97 506.22,155.96 506.85,155.94 507.48,155.96 508.11,155.98 508.74,155.90 509.37,155.75 510.00,155.68 510.63,155.76 511.26,155.83 511.89,155.72 512.52,155.61 513.15,155.55 513.78,155.51 514.41,155.52 515.04,155.57 515.67,155.58 516.30,155.32 516.93,155.06 517.56,155.30 518.19,155.65 518.82,155.63 519.45,155.31 520.08,155.04 520.71,155.01 521.34,154.97 521.97,154.69 522.60,154.38 523.23,154.33 523.86,154.42 524.49,154.40 525.12,154.15 525.75,153.90 526.38,153.92 527.01,153.94 527.64,153.79 528.27,153.58 528.90,153.34 529.53,153.07 530.16,152.75 530.79,152.24 531.42,151.68 532.05,151.41 532.68,151.18 533.31,151.02 533.94,150.94 534.57,150.81 535.20,150.51 535.83,150.19 536.46,149.47 537.09,148.67 537.72,148.05 538.35,147.53 538.98,146.92 539.61,146.19 540.24,145.43 540.87,145.30 541.50,144.41" fill="none" stroke="#1f1fd0" stroke-width="0.8" stroke-linejoin="round"/>
<path d="M447.0 121.8 V158.9 H541.5" fill="none" stroke="#6a6a6a" stroke-width="0.5"/>
<text x="447.00" y="166.10" font-size="5" text-anchor="middle" fill="#4a4a4a">0</text>
<text x="478.50" y="166.10" font-size="5" text-anchor="middle" fill="#4a4a4a">50</text>
<text x="510.00" y="166.10" font-size="5" text-anchor="middle" fill="#4a4a4a">100</text>
<text x="541.50" y="166.10" font-size="5" text-anchor="middle" fill="#4a4a4a">150</text>
<text x="444.80" y="160.70" font-size="5" text-anchor="end" fill="#4a4a4a">0</text>
<text x="444.80" y="146.21" font-size="5" text-anchor="end" fill="#4a4a4a">5</text>
<text x="444.80" y="131.72" font-size="5" text-anchor="end" fill="#4a4a4a">10</text>
<text x="494.25" y="118.60" font-size="5.3" font-weight="bold" text-anchor="middle" fill="#222">MODE 6 - Simultaneous (log)</text>
<rect x="450.50" y="124.30" width="41.5" height="21.2" fill="#fff" stroke="#666" stroke-width="0.5"/>
<line x1="452.50" y1="127.90" x2="466.50" y2="127.90" stroke="#303030" stroke-width="0.8"/>
<text x="468.50" y="129.65" font-size="4.85" fill="#4a4a4a">Imbalance</text>
<line x1="452.50" y1="134.80" x2="466.50" y2="134.80" stroke="#1f1fd0" stroke-width="0.8"/>
<text x="468.50" y="136.55" font-size="4.85" fill="#4a4a4a">Gearbox</text>
<line x1="452.50" y1="141.70" x2="466.50" y2="141.70" stroke="#b3b3ff" stroke-width="0.8"/>
<text x="468.50" y="143.45" font-size="4.85" fill="#4a4a4a">REB</text>
<line x1="354.83" y1="177.8" x2="354.83" y2="214.9" stroke="#e4e4e4" stroke-width="0.5"/>
<line x1="386.17" y1="177.8" x2="386.17" y2="214.9" stroke="#e4e4e4" stroke-width="0.5"/>
<line x1="417.50" y1="177.8" x2="417.50" y2="214.9" stroke="#e4e4e4" stroke-width="0.5"/>
<line x1="323.5" y1="200.41" x2="417.5" y2="200.41" stroke="#e4e4e4" stroke-width="0.5"/>
<line x1="323.5" y1="185.92" x2="417.5" y2="185.92" stroke="#e4e4e4" stroke-width="0.5"/>
<polyline points="324.13,213.89 324.75,214.09 325.38,214.21 326.01,214.19 326.63,214.17 327.26,214.07 327.89,213.98 328.51,214.01 329.14,214.07 329.77,214.08 330.39,214.03 331.02,213.98 331.65,213.95 332.27,213.93 332.90,213.95 333.53,213.97 334.15,214.00 334.78,214.04 335.41,214.05 336.03,213.97 336.66,213.89 337.29,213.97 337.91,214.06 338.54,214.07 339.17,214.05 339.79,214.03 340.42,214.03 341.05,214.02 341.67,213.98 342.30,213.93 342.93,213.94 343.55,213.97 344.18,213.97 344.81,213.94 345.43,213.92 346.06,213.95 346.69,213.98 347.31,213.93 347.94,213.86 348.57,213.91 349.19,214.05 349.82,214.10 350.45,213.93 351.07,213.75 351.70,213.84 352.33,213.93 352.95,213.93 353.58,213.89 354.21,213.87 354.83,213.91 355.46,213.94 356.09,213.93 356.71,213.93 357.34,213.95 357.97,213.98 358.59,213.99 359.22,213.97 359.85,213.96 360.47,213.98 361.10,213.99 361.73,214.05 362.35,214.10 362.98,214.11 363.61,214.09 364.23,214.06 364.86,214.02 365.49,213.98 366.11,213.92 366.74,213.86 367.37,213.78 367.99,213.69 368.62,213.68 369.25,213.79 369.87,213.88 370.50,213.73 371.13,213.58 371.75,213.69 372.38,213.88 373.01,213.99 373.63,214.02 374.26,214.02 374.89,213.84 375.51,213.65 376.14,213.74 376.77,213.87 377.39,213.90 378.02,213.85 378.65,213.87 379.27,214.06 379.90,214.25 380.53,214.03 381.15,213.80 381.78,213.73 382.41,213.74 383.03,213.71 383.66,213.64 384.29,213.58 384.91,213.71 385.54,213.85 386.17,213.77 386.79,213.63 387.42,213.58 388.05,213.64 388.67,213.69 389.30,213.70 389.93,213.72 390.55,213.55 391.18,213.35 391.81,213.31 392.43,213.41 393.06,213.49 393.69,213.53 394.31,213.57 394.94,213.32 395.57,213.06 396.19,212.97 396.82,212.96 397.45,213.00 398.07,213.14 398.70,213.27 399.33,213.12 399.95,212.96 400.58,212.85 401.21,212.76 401.83,212.69 402.46,212.64 403.09,212.60 403.71,212.64 404.34,212.67 404.97,212.27 405.59,211.77 406.22,211.61 406.85,211.74 407.47,211.79 408.10,211.60 408.73,211.41 409.35,211.54 409.98,211.69 410.61,211.51 411.23,211.13 411.86,210.92 412.49,211.03 413.11,211.10 413.74,210.49 414.37,209.83 414.99,209.35 415.62,208.91 416.25,208.87 416.87,209.34 417.50,209.66" fill="none" stroke="#b3b3ff" stroke-width="0.8" stroke-linejoin="round"/>
<polyline points="324.13,211.97 324.75,211.95 325.38,212.11 326.01,212.17 326.63,212.28 327.26,212.61 327.89,212.28 328.51,211.61 329.14,211.95 329.77,212.13 330.39,212.11 331.02,211.81 331.65,211.50 332.27,211.40 332.90,211.59 333.53,211.92 334.15,211.58 334.78,211.58 335.41,212.01 336.03,211.21 336.66,210.43 337.29,210.56 337.91,210.59 338.54,210.57 339.17,210.64 339.79,210.84 340.42,211.20 341.05,210.62 341.67,210.14 342.30,210.66 342.93,210.59 343.55,210.21 344.18,210.56 344.81,210.78 345.43,210.80 346.06,210.32 346.69,209.90 347.31,210.01 347.94,210.37 348.57,210.83 349.19,209.90 349.82,209.54 350.45,209.98 351.07,209.65 351.70,209.24 352.33,209.13 352.95,209.07 353.58,209.02 354.21,208.43 354.83,208.26 355.46,208.67 356.09,208.77 356.71,208.70 357.34,208.29 357.97,208.12 358.59,208.08 359.22,207.55 359.85,207.45 360.47,207.94 361.10,207.63 361.73,207.46 362.35,208.24 362.98,207.64 363.61,206.26 364.23,206.18 364.86,206.42 365.49,207.09 366.11,206.27 366.74,205.85 367.37,207.77 367.99,207.90 368.62,206.95 369.25,205.46 369.87,205.15 370.50,206.43 371.13,206.34 371.75,205.83 372.38,204.81 373.01,205.02 373.63,205.93 374.26,205.95 374.89,205.55 375.51,204.60 376.14,204.44 376.77,204.64 377.39,205.50 378.02,205.94 378.65,206.10 379.27,205.00 379.90,203.68 380.53,202.08 381.15,202.49 381.78,202.95 382.41,202.28 383.03,202.47 383.66,203.12 384.29,202.26 384.91,201.58 385.54,201.13 386.17,201.88 386.79,202.28 387.42,200.74 388.05,200.47 388.67,200.89 389.30,200.33 389.93,200.55 390.55,201.79 391.18,200.05 391.81,198.26 392.43,198.21 393.06,199.64 393.69,201.77 394.31,199.31 394.94,198.23 395.57,198.98 396.19,197.17 396.82,195.50 397.45,196.01 398.07,196.95 398.70,198.11 399.33,198.36 399.95,198.85 400.58,199.64 401.21,197.95 401.83,196.11 402.46,195.45 403.09,196.29 403.71,197.86 404.34,195.76 404.97,194.70 405.59,195.03 406.22,195.56 406.85,195.90 407.47,195.48 408.10,195.22 408.73,195.04 409.35,194.05 409.98,193.04 410.61,192.02 411.23,190.48 411.86,189.09 412.49,188.56 413.11,191.72 413.74,196.80 414.37,195.56 414.99,194.39 415.62,193.32 416.25,192.21 416.87,191.07 417.50,189.89" fill="none" stroke="#303030" stroke-width="0.8" stroke-linejoin="round"/>
<polyline points="324.13,211.88 324.75,212.04 325.38,212.20 326.01,212.31 326.63,212.38 327.26,212.30 327.89,211.99 328.51,211.72 329.14,211.94 329.77,212.17 330.39,212.18 331.02,212.14 331.65,212.20 332.27,212.37 332.90,212.45 333.53,212.16 334.15,211.87 334.78,211.96 335.41,212.09 336.03,212.15 336.66,212.14 337.29,212.11 337.91,212.05 338.54,211.98 339.17,212.18 339.79,212.38 340.42,212.32 341.05,212.13 341.67,212.02 342.30,212.03 342.93,212.04 343.55,212.08 344.18,212.12 344.81,212.16 345.43,212.20 346.06,212.21 346.69,212.19 347.31,212.14 347.94,211.99 348.57,211.84 349.19,211.95 349.82,212.08 350.45,212.14 351.07,212.14 351.70,212.12 352.33,212.08 352.95,212.03 353.58,211.96 354.21,211.90 354.83,211.98 355.46,212.13 356.09,212.24 356.71,212.27 357.34,212.30 357.97,212.19 358.59,212.09 359.22,212.08 359.85,212.09 360.47,212.08 361.10,212.03 361.73,212.00 362.35,212.05 362.98,212.10 363.61,212.20 364.23,212.30 364.86,212.26 365.49,212.12 366.11,212.07 366.74,212.24 367.37,212.41 367.99,212.31 368.62,212.21 369.25,212.19 369.87,212.20 370.50,212.16 371.13,212.05 371.75,211.94 372.38,212.00 373.01,212.05 373.63,212.06 374.26,212.05 374.89,212.09 375.51,212.17 376.14,212.18 376.77,211.90 377.39,211.61 378.02,211.63 378.65,211.69 379.27,211.66 379.90,211.58 380.53,211.52 381.15,211.55 381.78,211.58 382.41,211.65 383.03,211.73 383.66,211.69 384.29,211.60 384.91,211.49 385.54,211.34 386.17,211.22 386.79,211.54 387.42,211.86 388.05,211.80 388.67,211.62 389.30,211.56 389.93,211.62 390.55,211.63 391.18,211.41 391.81,211.18 392.43,211.05 393.06,210.92 393.69,210.82 394.31,210.74 394.94,210.63 395.57,210.45 396.19,210.26 396.82,210.29 397.45,210.31 398.07,210.45 398.70,210.64 399.33,210.53 399.95,209.90 400.58,209.31 401.21,209.44 401.83,209.57 402.46,209.25 403.09,208.78 403.71,208.60 404.34,208.77 404.97,208.89 405.59,208.76 406.22,208.62 406.85,208.55 407.47,208.47 408.10,207.76 408.73,206.53 409.35,205.80 409.98,206.55 410.61,207.36 411.23,207.05 411.86,206.70 412.49,205.86 413.11,204.72 413.74,203.94 414.37,203.84 414.99,203.67 415.62,202.82 416.25,201.90 416.87,201.54 417.50,200.41" fill="none" stroke="#1f1fd0" stroke-width="0.8" stroke-linejoin="round"/>
<path d="M323.5 177.8 V214.9 H417.5" fill="none" stroke="#6a6a6a" stroke-width="0.5"/>
<text x="323.50" y="222.10" font-size="5" text-anchor="middle" fill="#4a4a4a">0</text>
<text x="354.83" y="222.10" font-size="5" text-anchor="middle" fill="#4a4a4a">50</text>
<text x="386.17" y="222.10" font-size="5" text-anchor="middle" fill="#4a4a4a">100</text>
<text x="417.50" y="222.10" font-size="5" text-anchor="middle" fill="#4a4a4a">150</text>
<text x="321.30" y="216.70" font-size="5" text-anchor="end" fill="#4a4a4a">0</text>
<text x="321.30" y="202.21" font-size="5" text-anchor="end" fill="#4a4a4a">5</text>
<text x="321.30" y="187.72" font-size="5" text-anchor="end" fill="#4a4a4a">10</text>
<text x="312.30" y="196.35" font-size="5.4" text-anchor="middle" fill="#4a4a4a" transform="rotate(-90 312.30 196.35)">Ratio [-]</text>
<text x="370.50" y="229.60" font-size="5.45" text-anchor="middle" fill="#4a4a4a">Signal number [-]</text>
<text x="370.50" y="174.60" font-size="5.3" font-weight="bold" text-anchor="middle" fill="#222">MODE 7 - Miscellaneous</text>
<rect x="327.00" y="180.30" width="41.5" height="21.2" fill="#fff" stroke="#666" stroke-width="0.5"/>
<line x1="329.00" y1="183.90" x2="343.00" y2="183.90" stroke="#303030" stroke-width="0.8"/>
<text x="345.00" y="185.65" font-size="4.85" fill="#4a4a4a">Imbalance</text>
<line x1="329.00" y1="190.80" x2="343.00" y2="190.80" stroke="#1f1fd0" stroke-width="0.8"/>
<text x="345.00" y="192.55" font-size="4.85" fill="#4a4a4a">Gearbox</text>
<line x1="329.00" y1="197.70" x2="343.00" y2="197.70" stroke="#b3b3ff" stroke-width="0.8"/>
<text x="345.00" y="199.45" font-size="4.85" fill="#4a4a4a">REB</text>
<line x1="478.50" y1="177.8" x2="478.50" y2="214.9" stroke="#e4e4e4" stroke-width="0.5"/>
<line x1="510.00" y1="177.8" x2="510.00" y2="214.9" stroke="#e4e4e4" stroke-width="0.5"/>
<line x1="541.50" y1="177.8" x2="541.50" y2="214.9" stroke="#e4e4e4" stroke-width="0.5"/>
<line x1="447.0" y1="200.41" x2="541.5" y2="200.41" stroke="#e4e4e4" stroke-width="0.5"/>
<line x1="447.0" y1="185.92" x2="541.5" y2="185.92" stroke="#e4e4e4" stroke-width="0.5"/>
<polyline points="447.63,214.15 448.26,214.49 448.89,214.46 449.52,214.32 450.15,214.29 450.78,214.20 451.41,214.03 452.04,214.14 452.67,214.40 453.30,214.41 453.93,214.38 454.56,214.23 455.19,214.13 455.82,214.06 456.45,214.13 457.08,214.17 457.71,213.94 458.34,213.86 458.97,213.96 459.60,214.00 460.23,214.00 460.86,213.74 461.49,213.56 462.12,213.55 462.75,213.65 463.38,213.82 464.01,213.89 464.64,214.07 465.27,214.61 465.90,214.57 466.53,214.06 467.16,214.08 467.79,214.15 468.42,214.00 469.05,214.04 469.68,214.32 470.31,214.12 470.94,213.79 471.57,213.72 472.20,213.75 472.83,213.98 473.46,214.16 474.09,214.31 474.72,214.22 475.35,214.11 475.98,214.01 476.61,214.00 477.24,214.05 477.87,214.05 478.50,214.06 479.13,214.27 479.76,214.18 480.39,213.72 481.02,213.62 481.65,213.62 482.28,213.52 482.91,213.51 483.54,213.68 484.17,213.70 484.80,213.64 485.43,213.81 486.06,213.99 486.69,214.19 487.32,214.24 487.95,214.15 488.58,214.23 489.21,214.28 489.84,214.06 490.47,213.93 491.10,213.92 491.73,213.95 492.36,214.01 492.99,214.44 493.62,214.50 494.25,213.89 494.88,213.63 495.51,213.53 496.14,214.01 496.77,214.28 497.40,213.85 498.03,213.75 498.66,213.91 499.29,214.05 499.92,214.10 500.55,213.68 501.18,213.49 501.81,213.58 502.44,213.70 503.07,213.81 503.70,213.65 504.33,213.57 504.96,213.64 505.59,213.55 506.22,213.39 506.85,213.55 507.48,213.65 508.11,213.53 508.74,213.23 509.37,212.79 510.00,213.00 510.63,213.36 511.26,213.84 511.89,213.94 512.52,213.54 513.15,213.58 513.78,213.74 514.41,213.50 515.04,213.33 515.67,213.31 516.30,212.71 516.93,211.76 517.56,212.78 518.19,213.50 518.82,212.91 519.45,212.71 520.08,212.85 520.71,212.57 521.34,212.37 521.97,213.06 522.60,213.49 523.23,213.58 523.86,213.13 524.49,212.51 525.12,212.36 525.75,212.14 526.38,211.80 527.01,211.86 527.64,212.17 528.27,211.61 528.90,211.41 529.53,212.54 530.16,212.57 530.79,211.60 531.42,210.87 532.05,210.33 532.68,210.80 533.31,211.23 533.94,211.61 534.57,211.66 535.20,211.56 535.83,211.03 536.46,210.75 537.09,211.02 537.72,210.07 538.35,208.36 538.98,209.52 539.61,210.63 540.24,210.92 540.87,212.02 541.50,213.87" fill="none" stroke="#b3b3ff" stroke-width="0.8" stroke-linejoin="round"/>
<polyline points="447.63,212.11 448.26,210.95 448.89,210.67 449.52,211.00 450.15,211.68 450.78,211.58 451.41,210.28 452.04,210.65 452.67,211.27 453.30,211.18 453.93,210.96 454.56,210.67 455.19,210.52 455.82,210.70 456.45,211.37 457.08,210.81 457.71,210.21 458.34,210.60 458.97,210.20 459.60,209.26 460.23,208.66 460.86,208.68 461.49,209.66 462.12,209.91 462.75,210.07 463.38,210.52 464.01,210.07 464.64,209.01 465.27,209.42 465.90,210.14 466.53,211.31 467.16,210.99 467.79,210.02 468.42,207.99 469.05,207.10 469.68,206.95 470.31,207.26 470.94,207.10 471.57,206.26 472.20,207.39 472.83,208.22 473.46,206.02 474.09,205.81 474.72,206.88 475.35,206.13 475.98,206.94 476.61,210.08 477.24,209.72 477.87,208.53 478.50,207.43 479.13,207.91 479.76,209.40 480.39,207.39 481.02,206.36 481.65,206.77 482.28,205.78 482.91,204.86 483.54,205.44 484.17,204.70 484.80,203.13 485.43,204.85 486.06,205.81 486.69,205.65 487.32,207.49 487.95,208.50 488.58,204.41 489.21,203.27 489.84,204.08 490.47,205.64 491.10,206.30 491.73,205.63 492.36,201.40 492.99,198.02 493.62,201.18 494.25,201.94 494.88,201.13 495.51,202.05 496.14,203.00 496.77,203.99 497.40,201.44 498.03,199.60 498.66,203.73 499.29,205.88 499.92,206.72 500.55,205.68 501.18,204.17 501.81,201.99 502.44,200.67 503.07,201.30 503.70,208.55 504.33,208.38 504.96,203.39 505.59,201.39 506.22,199.13 506.85,196.53 507.48,196.67 508.11,197.74 508.74,199.81 509.37,202.49 510.00,205.49 510.63,200.97 511.26,199.38 511.89,202.06 512.52,201.81 513.15,200.90 513.78,200.10 514.41,200.06 515.04,200.56 515.67,204.95 516.30,207.35 516.93,206.80 517.56,206.21 518.19,206.10 518.82,207.84 519.45,202.89 520.08,193.76 520.71,200.40 521.34,201.93 521.97,195.96 522.60,196.70 523.23,198.25 523.86,196.86 524.49,198.06 525.12,200.90 525.75,200.76 526.38,199.21 527.01,195.60 527.64,198.59 528.27,201.31 528.90,197.09 529.53,197.91 530.16,201.90 530.79,197.27 531.42,197.22 532.05,203.84 532.68,199.90 533.31,193.63 533.94,189.39 534.57,189.39 535.20,194.81 535.83,193.13 536.46,194.98 537.09,201.97 537.72,189.97 538.35,183.89 538.98,192.87 539.61,197.43 540.24,192.57 540.87,192.92 541.50,191.71" fill="none" stroke="#303030" stroke-width="0.8" stroke-linejoin="round"/>
<polyline points="447.63,211.28 448.26,211.47 448.89,211.97 449.52,212.33 450.15,212.71 450.78,213.13 451.41,212.59 452.04,211.59 452.67,211.76 453.30,211.91 453.93,211.88 454.56,212.03 455.19,212.32 455.82,212.40 456.45,212.51 457.08,212.85 457.71,213.15 458.34,213.40 458.97,212.60 459.60,211.57 460.23,211.62 460.86,211.71 461.49,211.87 462.12,211.83 462.75,211.68 463.38,212.12 464.01,212.36 464.64,212.03 465.27,211.81 465.90,211.68 466.53,211.91 467.16,212.13 467.79,212.03 468.42,212.05 469.05,212.22 469.68,212.33 470.31,212.40 470.94,212.07 471.57,212.07 472.20,212.65 472.83,212.95 473.46,213.13 474.09,212.29 474.72,211.83 475.35,212.42 475.98,212.03 476.61,210.92 477.24,211.04 477.87,211.52 478.50,212.93 479.13,213.04 479.76,211.69 480.39,211.63 481.02,211.89 481.65,211.49 482.28,211.11 482.91,210.79 483.54,210.95 484.17,211.34 484.80,211.77 485.43,212.19 486.06,212.62 486.69,212.70 487.32,212.52 487.95,212.30 488.58,212.08 489.21,211.87 489.84,211.70 490.47,211.57 491.10,211.74 491.73,211.92 492.36,211.12 492.99,211.07 493.62,212.29 494.25,212.66 494.88,212.62 495.51,211.62 496.14,211.13 496.77,212.06 497.40,212.29 498.03,211.97 498.66,211.46 499.29,211.10 499.92,211.67 500.55,212.01 501.18,212.11 501.81,211.56 502.44,210.87 503.07,211.14 503.70,211.45 504.33,211.84 504.96,211.54 505.59,210.89 506.22,210.99 506.85,211.17 507.48,211.48 508.11,211.45 508.74,211.14 509.37,211.17 510.00,211.23 510.63,211.23 511.26,210.88 511.89,210.14 512.52,209.83 513.15,209.70 513.78,210.32 514.41,210.78 515.04,210.96 515.67,211.30 516.30,211.74 516.93,210.39 517.56,209.52 518.19,210.25 518.82,210.16 519.45,209.41 520.08,209.59 520.71,209.95 521.34,210.47 521.97,210.03 522.60,208.42 523.23,208.64 523.86,209.49 524.49,210.76 525.12,210.88 525.75,208.87 526.38,208.03 527.01,207.77 527.64,207.63 528.27,207.29 528.90,206.39 529.53,206.62 530.16,207.78 530.79,207.61 531.42,207.17 532.05,206.49 532.68,206.48 533.31,207.29 533.94,208.01 534.57,208.49 535.20,205.51 535.83,203.96 536.46,205.17 537.09,204.62 537.72,203.10 538.35,200.99 538.98,199.38 539.61,199.55 540.24,200.01 540.87,200.73 541.50,199.83" fill="none" stroke="#1f1fd0" stroke-width="0.8" stroke-linejoin="round"/>
<path d="M447.0 177.8 V214.9 H541.5" fill="none" stroke="#6a6a6a" stroke-width="0.5"/>
<text x="447.00" y="222.10" font-size="5" text-anchor="middle" fill="#4a4a4a">0</text>
<text x="478.50" y="222.10" font-size="5" text-anchor="middle" fill="#4a4a4a">50</text>
<text x="510.00" y="222.10" font-size="5" text-anchor="middle" fill="#4a4a4a">100</text>
<text x="541.50" y="222.10" font-size="5" text-anchor="middle" fill="#4a4a4a">150</text>
<text x="444.80" y="216.70" font-size="5" text-anchor="end" fill="#4a4a4a">0</text>
<text x="444.80" y="202.21" font-size="5" text-anchor="end" fill="#4a4a4a">5</text>
<text x="444.80" y="187.72" font-size="5" text-anchor="end" fill="#4a4a4a">10</text>
<text x="494.25" y="229.60" font-size="5.45" text-anchor="middle" fill="#4a4a4a">Signal number [-]</text>
<text x="494.25" y="174.60" font-size="5.3" font-weight="bold" text-anchor="middle" fill="#222">MODE 8 - Miscellaneous (high var)</text>
<rect x="450.50" y="180.30" width="41.5" height="21.2" fill="#fff" stroke="#666" stroke-width="0.5"/>
<line x1="452.50" y1="183.90" x2="466.50" y2="183.90" stroke="#303030" stroke-width="0.8"/>
<text x="468.50" y="185.65" font-size="4.85" fill="#4a4a4a">Imbalance</text>
<line x1="452.50" y1="190.80" x2="466.50" y2="190.80" stroke="#1f1fd0" stroke-width="0.8"/>
<text x="468.50" y="192.55" font-size="4.85" fill="#4a4a4a">Gearbox</text>
<line x1="452.50" y1="197.70" x2="466.50" y2="197.70" stroke="#b3b3ff" stroke-width="0.8"/>
<text x="468.50" y="199.45" font-size="4.85" fill="#4a4a4a">REB</text>
</svg></body></html>
